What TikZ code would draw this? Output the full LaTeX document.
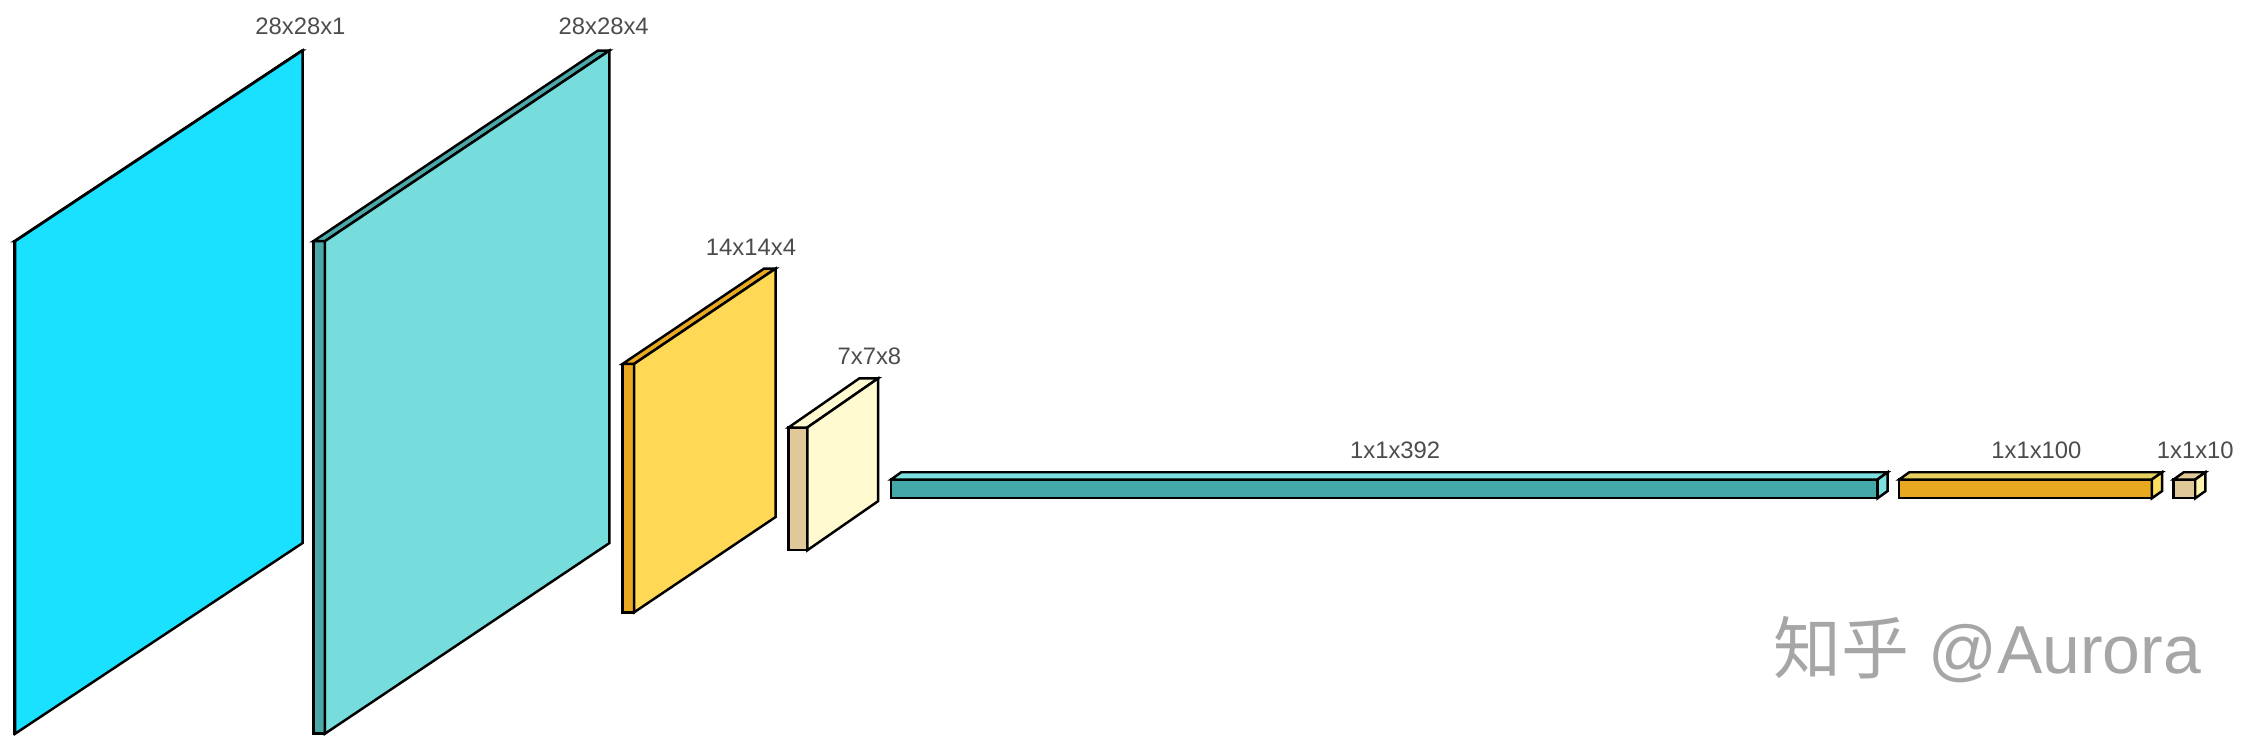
\documentclass[tikz,border=0pt]{standalone}
\usepackage{fontspec}
\setmainfont{Liberation Sans}
\newfontfamily\cjk{Noto Sans CJK SC}
\definecolor{cA}{HTML}{1AE1FF}
\definecolor{cBf}{HTML}{76DCDC}\definecolor{cBs}{HTML}{4AA8A8}
\definecolor{cCf}{HTML}{FFD955}\definecolor{cCs}{HTML}{E8A820}
\definecolor{cDf}{HTML}{FFFAD0}\definecolor{cDs}{HTML}{E0C898}
\definecolor{cEf}{HTML}{45A8A8}\definecolor{cEe}{HTML}{7EE0E0}
\definecolor{cFf}{HTML}{E8A820}\definecolor{cFt}{HTML}{E8D060}\definecolor{cFe}{HTML}{FFE060}
\definecolor{cGf}{HTML}{E0C898}\definecolor{cGe}{HTML}{FFF5B0}
% #1 x0, #2 ybottom, #3 depth, #4 height, #5 wx, #6 wy, #7 side, #8 end, #9 top
\newcommand\cubeblk[9]{%
  \draw[blk,fill=#7] (#1,#2) rectangle ++(#3,-#4);
  \draw[blk,fill=#9] (#1,#2-#4) -- ++(#3,0) -- ++(#5,#6) -- ++(-#3,0) -- cycle;
  \draw[blk,fill=#8] (#1+#3,#2) -- ++(0,-#4) -- ++(#5,#6) -- ++(0,#4) -- cycle;
}
\tikzset{blk/.style={draw=black,line width=1.7pt,line join=miter},
  lbl/.style={text=black!70,font=\fontsize{16.5}{19}\selectfont,inner sep=0pt}}
\begin{document}
\begin{tikzpicture}[x=1pt,y=-1pt]
\useasboundingbox (0,0) rectangle (1560,510);
\cubeblk{10}{508}{0.5}{341}{199}{-132}{cA}{cA}{cA}
\cubeblk{217}{508}{8}{341}{197}{-132}{cBs}{cBf}{cBs}
\cubeblk{431}{424}{8}{172}{98}{-66}{cCs}{cCf}{cCs}
\cubeblk{546}{381}{13}{85}{49}{-34}{cDs}{cDf}{cDf}
\cubeblk{617}{345}{683}{13}{7}{-5}{cEf}{cEe}{cEe}
\cubeblk{1315}{345}{175}{13}{7}{-5}{cFf}{cFe}{cFt}
\cubeblk{1505}{345}{15}{13}{7}{-5}{cGf}{cGe}{cGf}
\node[lbl] (l1) at (208,18) {28x28x1};
\node[lbl] (l2) at (418,18) {28x28x4};
\node[lbl] (l3) at (520,171) {14x14x4};
\node[lbl] (l4) at (602,247) {7x7x8};
\node[lbl] (l5) at (966,312) {1x1x392};
\node[lbl] (l6) at (1410,312) {1x1x100};
\node[lbl] (l7) at (1520,312) {1x1x10};
\node[text=black!35,font=\fontsize{47}{52}\selectfont,inner sep=0pt,anchor=west] (wm) at (1228,450) {{\cjk 知乎} @Aurora};
\end{tikzpicture}
\end{document}
